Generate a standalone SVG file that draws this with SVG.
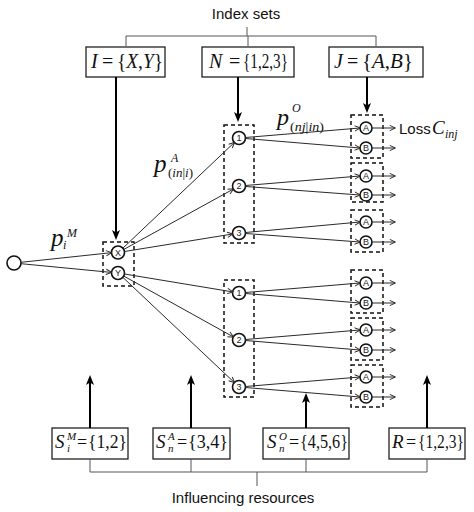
<svg xmlns="http://www.w3.org/2000/svg" width="474" height="512" viewBox="0 0 474 512">
<style>
.bg{fill:#fff}
.box{fill:#fff;stroke:#222;stroke-width:1.3}
.dash{fill:none;stroke:#111;stroke-width:1.5;stroke-dasharray:4,3}
.nd{fill:#fff;stroke:#111;stroke-width:1.6}
.nl{font-family:"Liberation Sans",Arial,sans-serif;font-size:9px;fill:#222;text-anchor:middle}
.e{stroke:#2a2a2a;stroke-width:1;fill:none;marker-end:url(#ah)}
.big{stroke:#000;stroke-width:2;fill:none;marker-end:url(#big)}
.br{stroke:#555;stroke-width:1;fill:none}
.sans{font-family:"Liberation Sans",Arial,sans-serif;font-size:15px;fill:#111}
.m{font-family:"Liberation Serif","Times New Roman",serif;fill:#111}
.i{font-style:italic}
</style>
<defs>
<marker id="ah" viewBox="0 0 8 8" refX="7" refY="4" markerWidth="7" markerHeight="7" markerUnits="userSpaceOnUse" orient="auto"><path d="M1,1 L7.5,4 L1,7" fill="none" stroke="#2a2a2a" stroke-width="1.1"/></marker>
<marker id="big" viewBox="0 0 10 10" refX="7" refY="5" markerWidth="10" markerHeight="10" markerUnits="userSpaceOnUse" orient="auto"><path d="M0,1 L10,5 L0,9 L2.5,5 z" fill="#000"/></marker>
</defs>
<rect class="bg" x="0" y="0" width="474" height="512"/>

<g id="index-sets">
<text class="sans" x="246" y="19" text-anchor="middle">Index sets</text>
<path class="br" d="M247,27 V36 M126,46 V36 H376 V46 M248,36 V46"/>
</g>

<g id="set-I">
<rect class="box" x="86" y="47" width="79" height="30"/>
<text class="m" y="68" font-size="20"><tspan class="i" x="91">I</tspan><tspan x="102">=</tspan><tspan x="117" textLength="46" lengthAdjust="spacingAndGlyphs">{<tspan class="i">X</tspan>,<tspan class="i">Y</tspan>}</tspan></text>
</g>
<g id="set-N">
<rect class="box" x="202" y="47" width="92" height="30"/>
<text class="m" y="68" font-size="20"><tspan class="i" x="209">N</tspan><tspan x="229">=</tspan><tspan x="243" textLength="45" lengthAdjust="spacingAndGlyphs">{1,2,3}</tspan></text>
</g>
<g id="set-J">
<rect class="box" x="329" y="47" width="94" height="30"/>
<text class="m" y="68" font-size="20"><tspan class="i" x="334">J</tspan><tspan x="347">=</tspan><tspan x="362" textLength="51" lengthAdjust="spacingAndGlyphs">{<tspan class="i">A</tspan>,<tspan class="i">B</tspan>}</tspan></text>
</g>

<g id="start"><circle class="nd" cx="14" cy="263" r="7"/></g>

<g id="group-I">
<rect class="dash" x="103" y="242" width="31" height="44"/>
<circle class="nd" cx="118" cy="252.5" r="6.5"/><text class="nl" x="118" y="255.7">X</text>
<circle class="nd" cx="118" cy="273" r="6.5"/><text class="nl" x="118" y="276.2">Y</text>
</g>

<g id="group-N-X">
<rect class="dash" x="224" y="125" width="30" height="118"/>
<circle class="nd" cx="239" cy="138" r="6.5"/><text class="nl" x="239" y="141.2">1</text>
<circle class="nd" cx="239" cy="186" r="6.5"/><text class="nl" x="239" y="189.2">2</text>
<circle class="nd" cx="239" cy="233" r="6.5"/><text class="nl" x="239" y="236.2">3</text>
</g>
<g id="group-N-Y">
<rect class="dash" x="224" y="280" width="30" height="117"/>
<circle class="nd" cx="239" cy="293" r="6.5"/><text class="nl" x="239" y="296.2">1</text>
<circle class="nd" cx="239" cy="340" r="6.5"/><text class="nl" x="239" y="343.2">2</text>
<circle class="nd" cx="239" cy="387" r="6.5"/><text class="nl" x="239" y="390.2">3</text>
</g>

<g id="group-J-X1">
<rect class="dash" x="351" y="115" width="32" height="43"/>
<circle class="nd" cx="366" cy="128" r="6"/><text class="nl" x="366" y="131.2">A</text>
<circle class="nd" cx="366" cy="148" r="6"/><text class="nl" x="366" y="151.2">B</text>
</g>
<g id="group-J-X2">
<rect class="dash" x="351" y="163" width="32" height="39"/>
<circle class="nd" cx="366" cy="176" r="6"/><text class="nl" x="366" y="179.2">A</text>
<circle class="nd" cx="366" cy="195" r="6"/><text class="nl" x="366" y="198.2">B</text>
</g>
<g id="group-J-X3">
<rect class="dash" x="351" y="210" width="32" height="42"/>
<circle class="nd" cx="366" cy="222" r="6"/><text class="nl" x="366" y="225.2">A</text>
<circle class="nd" cx="366" cy="242" r="6"/><text class="nl" x="366" y="245.2">B</text>
</g>
<g id="group-J-Y1">
<rect class="dash" x="351" y="270" width="32" height="43"/>
<circle class="nd" cx="366" cy="283" r="6"/><text class="nl" x="366" y="286.2">A</text>
<circle class="nd" cx="366" cy="303" r="6"/><text class="nl" x="366" y="306.2">B</text>
</g>
<g id="group-J-Y2">
<rect class="dash" x="351" y="318" width="32" height="42"/>
<circle class="nd" cx="366" cy="330" r="6"/><text class="nl" x="366" y="333.2">A</text>
<circle class="nd" cx="366" cy="350" r="6"/><text class="nl" x="366" y="353.2">B</text>
</g>
<g id="group-J-Y3">
<rect class="dash" x="351" y="365" width="32" height="42"/>
<circle class="nd" cx="366" cy="377" r="6"/><text class="nl" x="366" y="380.2">A</text>
<circle class="nd" cx="366" cy="397" r="6"/><text class="nl" x="366" y="400.2">B</text>
</g>

<g id="res-SM">
<rect class="box" x="52" y="428" width="76" height="31"/>
<text class="m" font-size="19"><tspan class="i" x="55" y="448">S</tspan><tspan class="i" x="67" y="440" font-size="11">M</tspan><tspan class="i" x="67" y="452" font-size="11">i</tspan><tspan x="77" y="448" font-size="18">=</tspan><tspan x="88" y="448" font-size="18" textLength="39" lengthAdjust="spacingAndGlyphs">{1,2}</tspan></text>
</g>
<g id="res-SA">
<rect class="box" x="153" y="428" width="77" height="31"/>
<text class="m" font-size="19"><tspan class="i" x="156" y="448">S</tspan><tspan class="i" x="168" y="440" font-size="11">A</tspan><tspan class="i" x="168" y="452" font-size="11">n</tspan><tspan x="177" y="448" font-size="18">=</tspan><tspan x="188" y="448" font-size="18" textLength="40" lengthAdjust="spacingAndGlyphs">{3,4}</tspan></text>
</g>
<g id="res-SO">
<rect class="box" x="263" y="428" width="86" height="31"/>
<text class="m" font-size="19"><tspan class="i" x="267" y="448">S</tspan><tspan class="i" x="279" y="440" font-size="11">O</tspan><tspan class="i" x="279" y="452" font-size="11">n</tspan><tspan x="289" y="448" font-size="18">=</tspan><tspan x="300" y="448" font-size="18" textLength="48" lengthAdjust="spacingAndGlyphs">{4,5,6}</tspan></text>
</g>
<g id="res-R">
<rect class="box" x="389" y="428" width="76" height="31"/>
<text class="m" font-size="19"><tspan class="i" x="392" y="448">R</tspan><tspan x="406" y="448" font-size="18">=</tspan><tspan x="418" y="448" font-size="18" textLength="46" lengthAdjust="spacingAndGlyphs">{1,2,3}</tspan></text>
</g>

<g id="influencing">
<path class="br" d="M90,459 V472 M191,459 V472 M306,459 V472 M427,459 V472 M90,472 H427 M257,472 V486"/>
<text class="sans" x="243" y="503" text-anchor="middle">Influencing resources</text>
</g>

<g id="connectors">
<line class="big" x1="116" y1="77" x2="116" y2="237"/>
<line class="big" x1="238" y1="77" x2="238" y2="119"/>
<line class="big" x1="367" y1="77" x2="367" y2="110"/>
<line class="big" x1="90" y1="428" x2="90" y2="378"/>
<line class="big" x1="191" y1="428" x2="191" y2="378"/>
<line class="big" x1="306" y1="428" x2="306" y2="396"/>
<line class="big" x1="427" y1="428" x2="427" y2="378"/>

<line class="e" x1="21" y1="262.3" x2="111.3" y2="252.7"/>
<line class="e" x1="21" y1="263.7" x2="111.3" y2="272.4"/>

<line class="e" x1="123" y1="248" x2="234.3" y2="142.5"/>
<line class="e" x1="124" y1="249.3" x2="233.3" y2="189.1"/>
<line class="e" x1="124.5" y1="251.5" x2="232.6" y2="234"/>
<line class="e" x1="124.5" y1="274" x2="232.6" y2="291.9"/>
<line class="e" x1="124" y1="276.2" x2="233.3" y2="336.9"/>
<line class="e" x1="123" y1="277.5" x2="234.3" y2="382.5"/>

<line class="e" x1="245.5" y1="137.5" x2="360" y2="128"/>
<line class="e" x1="245.5" y1="138.5" x2="360" y2="148"/>
<line class="e" x1="245.5" y1="185.5" x2="360" y2="176"/>
<line class="e" x1="245.5" y1="186.5" x2="360" y2="195"/>
<line class="e" x1="245.5" y1="232.5" x2="360" y2="222"/>
<line class="e" x1="245.5" y1="233.5" x2="360" y2="242"/>
<line class="e" x1="245.5" y1="292.5" x2="360" y2="283"/>
<line class="e" x1="245.5" y1="293.5" x2="360" y2="303"/>
<line class="e" x1="245.5" y1="339.5" x2="360" y2="330"/>
<line class="e" x1="245.5" y1="340.5" x2="360" y2="350"/>
<line class="e" x1="245.5" y1="386.5" x2="360" y2="377"/>
<line class="e" x1="245.5" y1="387.5" x2="360" y2="397"/>

<line class="e" x1="372" y1="128" x2="395" y2="128"/>
<line class="e" x1="372" y1="148" x2="395" y2="148"/>
<line class="e" x1="372" y1="176" x2="395" y2="176"/>
<line class="e" x1="372" y1="195" x2="395" y2="195"/>
<line class="e" x1="372" y1="222" x2="395" y2="222"/>
<line class="e" x1="372" y1="242" x2="395" y2="242"/>
<line class="e" x1="372" y1="283" x2="395" y2="283"/>
<line class="e" x1="372" y1="303" x2="395" y2="303"/>
<line class="e" x1="372" y1="330" x2="395" y2="330"/>
<line class="e" x1="372" y1="350" x2="395" y2="350"/>
<line class="e" x1="372" y1="377" x2="395" y2="377"/>
<line class="e" x1="372" y1="397" x2="395" y2="397"/>
</g>

<g id="labels">
<text class="m"><tspan class="i" x="51" y="246" font-size="25">p</tspan><tspan class="i" x="67" y="237" font-size="12">M</tspan><tspan class="i" x="63" y="249" font-size="12">i</tspan></text>
<text class="m"><tspan class="i" x="154" y="172" font-size="25">p</tspan><tspan class="i" x="171" y="162" font-size="12">A</tspan><tspan x="168" y="177" font-size="12" textLength="25" lengthAdjust="spacingAndGlyphs">(<tspan class="i">in</tspan>|<tspan class="i">i</tspan>)</tspan></text>
<text class="m"><tspan class="i" x="277" y="125" font-size="24">p</tspan><tspan class="i" x="292" y="112" font-size="12">O</tspan><tspan x="290" y="131" font-size="12" textLength="34" lengthAdjust="spacingAndGlyphs">(<tspan class="i">nj</tspan>|<tspan class="i">in</tspan>)</tspan></text>
<text class="sans" x="399" y="134">Loss</text>
<text class="m"><tspan class="i" x="432" y="134" font-size="19">C</tspan><tspan class="i" x="445" y="138" font-size="12">inj</tspan></text>
</g>
</svg>
